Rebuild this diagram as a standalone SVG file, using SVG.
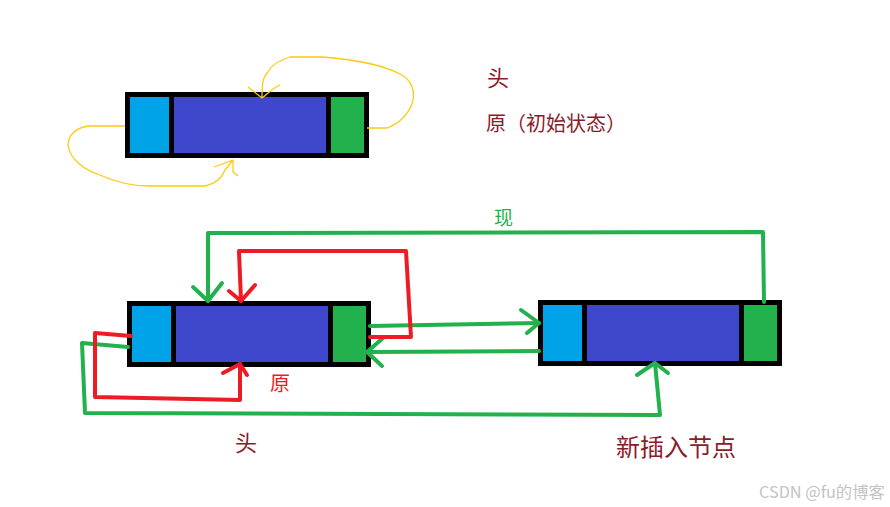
<svg xmlns="http://www.w3.org/2000/svg" width="890" height="507" viewBox="0 0 890 507">
<style>
.frame{fill:#000}
.prev{fill:#00a2e8}
.data{fill:#3f48cc}
.next{fill:#22b14c}
.g{fill:none;stroke:#22b14c;stroke-width:4;stroke-linejoin:round;stroke-linecap:round}
.r{fill:none;stroke:#ed1c24;stroke-width:4;stroke-linejoin:round;stroke-linecap:round}
.y{fill:none;stroke:#ffc90e;stroke-width:1.3;stroke-linejoin:round}
.lbl{font-family:"Noto Sans CJK SC","Noto Sans",sans-serif;fill:#8b1a2b}
</style>
<rect width="890" height="507" fill="#fff"/>
<g id="node-original">
<rect class="frame" x="125" y="92" width="244" height="66"/>
<rect class="prev" x="130" y="97" width="39" height="56"/>
<rect class="data" x="174" y="97" width="152" height="56"/>
<rect class="next" x="331" y="97" width="33" height="56"/>
</g>
<g id="node-head">
<rect class="frame" x="127" y="301" width="244" height="66"/>
<rect class="prev" x="132" y="306" width="39" height="56"/>
<rect class="data" x="176" y="306" width="152" height="56"/>
<rect class="next" x="333" y="306" width="33" height="56"/>
</g>
<g id="node-new">
<rect class="frame" x="538" y="300" width="244" height="66"/>
<rect class="prev" x="543" y="305" width="39" height="56"/>
<rect class="data" x="587" y="305" width="152" height="56"/>
<rect class="next" x="744" y="305" width="33" height="56"/>
</g>
<g id="connectors">
<path class="y" d="M125,126 L88,126 C76,128 68,135 68,145 C70,160 85,170 100,175 C115,182 130,186 150,186 L205,186 C215,184 222,178 225,170 L233,160 M233,160 L214,167 M233,160 L233,172 L238,176"/>
<path class="y" d="M367,128 L387,128 C398,124 407,116 412,104 C416,92 412,80 400,74 C385,66 360,60 323,57 L290,57 C280,60 272,64 268,72 C262,78 262,86 262,98 M262,98 L248,87 M262,98 C268,94 272,88 280,85"/>
<polyline class="g" points="764,302 763,232 208,233 208,301"/>
<polyline class="g" points="193,287 208,301 222,283"/>
<polyline class="g" points="370,326 539,323"/>
<polyline class="g" points="521,310 539,323 527,333"/>
<polyline class="g" points="539,351 368,352"/>
<polyline class="g" points="383,338 367,352 382,366"/>
<polyline class="g" points="128,347 82,343 85,413 660,415 655,363"/>
<polyline class="g" points="637,375 655,363 668,373"/>
<polyline class="r" points="370,337 411,337 406,251 239,251 241,301"/>
<polyline class="r" points="229,291 241,301 255,285"/>
<polyline class="r" points="131,336 95,333 95,397 240,400 240,364"/>
<polyline class="r" points="223,373 240,364 247,375"/>
</g>
<g id="labels">
<text class="lbl" x="487" y="86" font-size="22">头</text>
<text class="lbl" x="486" y="131" font-size="20">原（初始状态）</text>
<text x="494" y="225" font-size="19" font-family="Noto Sans CJK SC, sans-serif" fill="#22b14c">现</text>
<text x="270" y="391" font-size="20" font-family="Noto Sans CJK SC, sans-serif" fill="#ed1c24">原</text>
<text class="lbl" x="235" y="451" font-size="22">头</text>
<text class="lbl" x="616" y="456" font-size="24">新插入节点</text>
<text x="759" y="498" font-size="16.3" font-family="Noto Sans CJK SC, sans-serif" fill="#c3c3c3">CSDN @fu的博客</text>
</g>
</svg>
